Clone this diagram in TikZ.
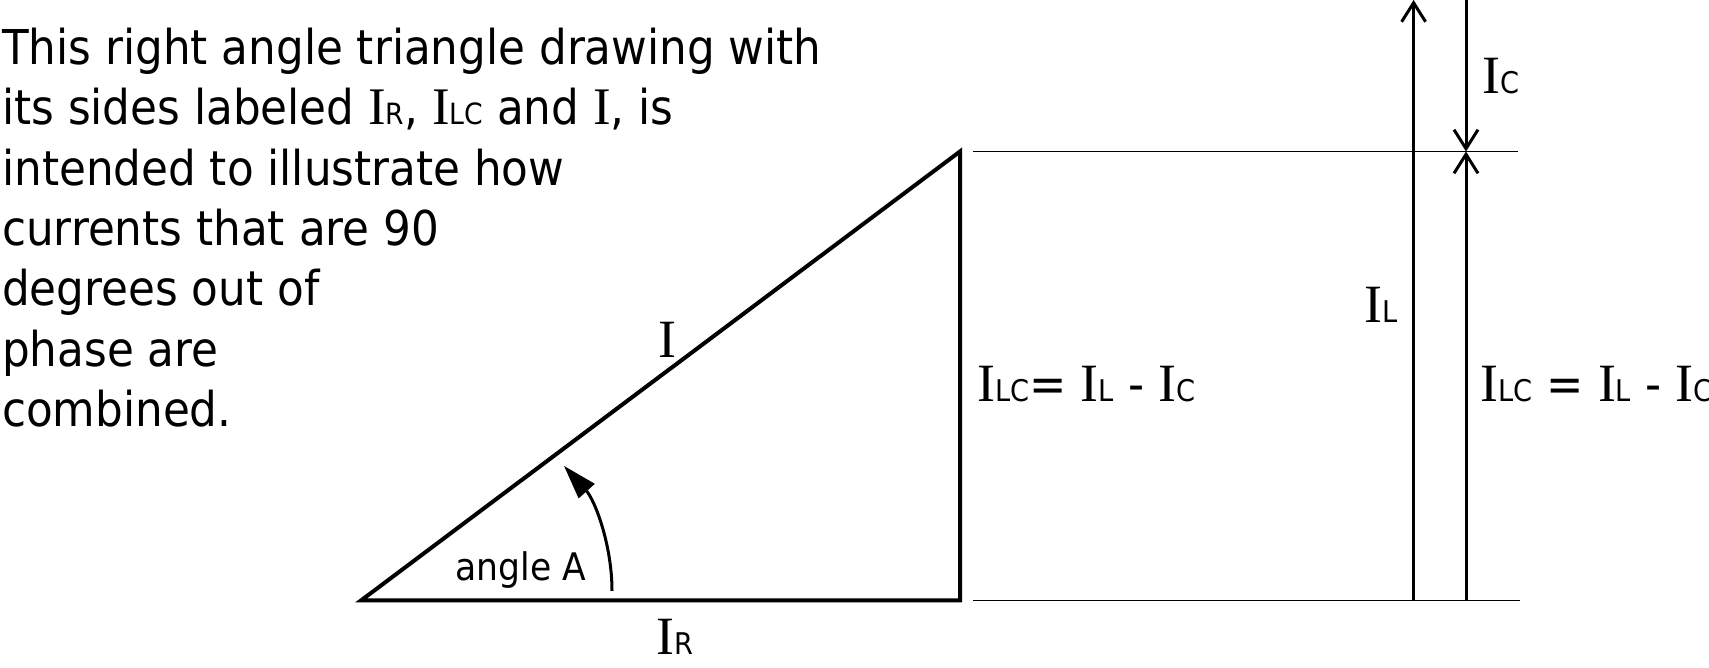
\documentclass[tikz,border=0pt]{standalone}
\usepackage{fontspec}
\setmainfont{DejaVu Sans}[FakeStretch=0.91]
\newfontfamily\Ifam{Liberation Serif}[Scale=1.1]
\usetikzlibrary{arrows.meta}
\newcommand\CurI[1]{{\Ifam I}\scalebox{0.61}{#1}}
\tikzset{
  thick line/.style={line width=4pt},
  thin line/.style={line width=1.4pt},
  vec/.style={line width=3pt,-{Straight Barb[length=19pt,width=24pt,line width=3pt]}},
  angarrow/.style={line width=3pt,-{Triangle[length=34pt,width=21pt]}},
  lbl/.style={inner sep=0pt,font=\fontsize{49}{56}\selectfont},
}
\begin{document}
\begin{tikzpicture}[x=1pt,y=1pt]
\useasboundingbox (0,0) rectangle (1709,668);
% text
\node[anchor=north west,inner sep=0pt,align=left,font=\fontsize{48}{60.3}\selectfont] (para) at (2,640)
 {This right angle triangle drawing with\\
  its sides labeled \CurI{R}, \CurI{LC} and {\Ifam I}, is\\
  intended to illustrate how\\
  currents that are 90\\
  degrees out of\\
  phase are\\
  combined.};
% triangle
\coordinate (A) at (361,67.5);
\coordinate (B) at (960,67.5);
\coordinate (C) at (960,516.5);
\draw[thick line,line join=miter] (A) -- (B) -- (C) -- cycle;
% thin guide lines
\coordinate (t1) at (973,516.5);
\coordinate (t2) at (1518,516.5);
\coordinate (b1) at (973,67.5);
\coordinate (b2) at (1520,67.5);
\draw[thin line] (t1) -- (t2);
\draw[thin line] (b1) -- (b2);
% vectors
\coordinate (ILb) at (1413.6,67.5);
\coordinate (ILt) at (1413.6,668);
\coordinate (ICt) at (1466,668);
\coordinate (ICb) at (1466,516.5);
\coordinate (LCb) at (1466,67.5);
\draw[vec] (ILb) -- (ILt);
\draw[vec] (ICt) -- (ICb);
\draw[vec] (LCb) -- (ICb);
% angle arrow
\coordinate (arcs) at (612,77);
\draw[angarrow] (arcs) arc[start angle=0,end angle=42,radius=187];
% labels
\node[lbl] (lI) at (667,328) {{\Ifam I}};
\node[lbl,font=\fontsize{38}{44}\selectfont] (lang) at (521,98) {angle A};
\node[lbl] (lIR) at (675,31) {\CurI{R}};
\node[lbl,anchor=west] (lLC1) at (977,284) {\CurI{LC}= \CurI{L} - \CurI{C}};
\node[lbl,anchor=east] (lIL) at (1398,363) {\CurI{L}};
\node[lbl,anchor=west] (lIC) at (1482,592) {\CurI{C}};
\node[lbl,anchor=west] (lLC2) at (1480,284) {\CurI{LC} = \CurI{L} - \CurI{C}};
\end{tikzpicture}
\end{document}
